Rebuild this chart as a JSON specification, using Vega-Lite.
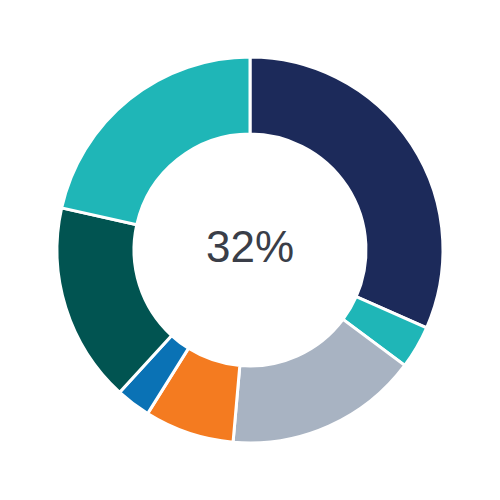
{
  "$schema": "https://vega.github.io/schema/vega-lite/v6.json",
  "width": 500,
  "height": 500,
  "autosize": {"type": "fit", "contains": "padding"},
  "padding": 0,
  "background": "white",
  "config": {"view": {"stroke": null}},
  "layer": [
    {
      "data": {
        "values": [
          {"segment": "A", "value": 31.6, "order": 1},
          {"segment": "B", "value": 3.6, "order": 2},
          {"segment": "C", "value": 16.2, "order": 3},
          {"segment": "D", "value": 7.5, "order": 4},
          {"segment": "E", "value": 2.9, "order": 5},
          {"segment": "F", "value": 16.7, "order": 6},
          {"segment": "G", "value": 21.5, "order": 7}
        ]
      },
      "mark": {"type": "arc", "innerRadius": 116, "outerRadius": 193, "stroke": "white", "strokeWidth": 3},
      "encoding": {
        "theta": {"field": "value", "type": "quantitative", "stack": true},
        "order": {"field": "order", "type": "quantitative"},
        "color": {
          "field": "segment",
          "type": "nominal",
          "legend": null,
          "scale": {
            "domain": ["A", "B", "C", "D", "E", "F", "G"],
            "range": ["#1c2a5a", "#1fb6b7", "#a8b3c2", "#f47b20", "#0a72b5", "#015451", "#1fb6b7"]
          }
        }
      }
    },
    {
      "data": {"values": [{"label": "32%"}]},
      "mark": {"type": "text", "fontSize": 44, "font": "Liberation Sans", "color": "#3a3e48", "align": "center", "baseline": "alphabetic", "dy": 12},
      "encoding": {"text": {"field": "label", "type": "nominal"}}
    }
  ]
}
